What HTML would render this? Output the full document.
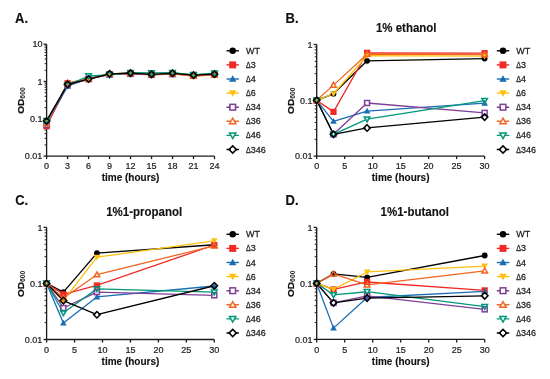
<!DOCTYPE html>
<html><head><meta charset="utf-8"><style>
html,body{margin:0;padding:0;background:#fff;}
svg{display:block;font-family:"Liberation Sans", sans-serif;will-change:transform;}
</style></head><body>
<svg width="550" height="379" viewBox="0 0 550 379">
<rect width="550" height="379" fill="#fff"/>
<path d="M46.60,44.20 V156.10 H214.50" fill="none" stroke="#1a1a1a" stroke-width="1.3"/>
<line x1="43.60" y1="156.10" x2="46.60" y2="156.10" stroke="#1a1a1a" stroke-width="1.3"/>
<text x="42.40" y="159.30" font-size="9" stroke="#222222" stroke-width="0.22" text-anchor="end" fill="#222222">0.01</text>
<line x1="44.60" y1="144.87" x2="46.60" y2="144.87" stroke="#1a1a1a" stroke-width="1"/>
<line x1="44.60" y1="138.30" x2="46.60" y2="138.30" stroke="#1a1a1a" stroke-width="1"/>
<line x1="44.60" y1="133.64" x2="46.60" y2="133.64" stroke="#1a1a1a" stroke-width="1"/>
<line x1="44.60" y1="130.03" x2="46.60" y2="130.03" stroke="#1a1a1a" stroke-width="1"/>
<line x1="44.60" y1="127.07" x2="46.60" y2="127.07" stroke="#1a1a1a" stroke-width="1"/>
<line x1="44.60" y1="124.58" x2="46.60" y2="124.58" stroke="#1a1a1a" stroke-width="1"/>
<line x1="44.60" y1="122.41" x2="46.60" y2="122.41" stroke="#1a1a1a" stroke-width="1"/>
<line x1="44.60" y1="120.51" x2="46.60" y2="120.51" stroke="#1a1a1a" stroke-width="1"/>
<line x1="43.60" y1="118.80" x2="46.60" y2="118.80" stroke="#1a1a1a" stroke-width="1.3"/>
<text x="42.40" y="122.00" font-size="9" stroke="#222222" stroke-width="0.22" text-anchor="end" fill="#222222">0.1</text>
<line x1="44.60" y1="107.57" x2="46.60" y2="107.57" stroke="#1a1a1a" stroke-width="1"/>
<line x1="44.60" y1="101.00" x2="46.60" y2="101.00" stroke="#1a1a1a" stroke-width="1"/>
<line x1="44.60" y1="96.34" x2="46.60" y2="96.34" stroke="#1a1a1a" stroke-width="1"/>
<line x1="44.60" y1="92.73" x2="46.60" y2="92.73" stroke="#1a1a1a" stroke-width="1"/>
<line x1="44.60" y1="89.77" x2="46.60" y2="89.77" stroke="#1a1a1a" stroke-width="1"/>
<line x1="44.60" y1="87.28" x2="46.60" y2="87.28" stroke="#1a1a1a" stroke-width="1"/>
<line x1="44.60" y1="85.11" x2="46.60" y2="85.11" stroke="#1a1a1a" stroke-width="1"/>
<line x1="44.60" y1="83.21" x2="46.60" y2="83.21" stroke="#1a1a1a" stroke-width="1"/>
<line x1="43.60" y1="81.50" x2="46.60" y2="81.50" stroke="#1a1a1a" stroke-width="1.3"/>
<text x="42.40" y="84.70" font-size="9" stroke="#222222" stroke-width="0.22" text-anchor="end" fill="#222222">1</text>
<line x1="44.60" y1="70.27" x2="46.60" y2="70.27" stroke="#1a1a1a" stroke-width="1"/>
<line x1="44.60" y1="63.70" x2="46.60" y2="63.70" stroke="#1a1a1a" stroke-width="1"/>
<line x1="44.60" y1="59.04" x2="46.60" y2="59.04" stroke="#1a1a1a" stroke-width="1"/>
<line x1="44.60" y1="55.43" x2="46.60" y2="55.43" stroke="#1a1a1a" stroke-width="1"/>
<line x1="44.60" y1="52.47" x2="46.60" y2="52.47" stroke="#1a1a1a" stroke-width="1"/>
<line x1="44.60" y1="49.98" x2="46.60" y2="49.98" stroke="#1a1a1a" stroke-width="1"/>
<line x1="44.60" y1="47.81" x2="46.60" y2="47.81" stroke="#1a1a1a" stroke-width="1"/>
<line x1="44.60" y1="45.91" x2="46.60" y2="45.91" stroke="#1a1a1a" stroke-width="1"/>
<line x1="43.60" y1="44.20" x2="46.60" y2="44.20" stroke="#1a1a1a" stroke-width="1.3"/>
<text x="42.40" y="47.40" font-size="9" stroke="#222222" stroke-width="0.22" text-anchor="end" fill="#222222">10</text>
<line x1="46.60" y1="156.10" x2="46.60" y2="159.10" stroke="#1a1a1a" stroke-width="1.3"/>
<text x="46.60" y="169.40" font-size="9" stroke="#222222" stroke-width="0.22" text-anchor="middle" fill="#222222">0</text>
<line x1="67.59" y1="156.10" x2="67.59" y2="159.10" stroke="#1a1a1a" stroke-width="1.3"/>
<text x="67.59" y="169.40" font-size="9" stroke="#222222" stroke-width="0.22" text-anchor="middle" fill="#222222">3</text>
<line x1="88.58" y1="156.10" x2="88.58" y2="159.10" stroke="#1a1a1a" stroke-width="1.3"/>
<text x="88.58" y="169.40" font-size="9" stroke="#222222" stroke-width="0.22" text-anchor="middle" fill="#222222">6</text>
<line x1="109.56" y1="156.10" x2="109.56" y2="159.10" stroke="#1a1a1a" stroke-width="1.3"/>
<text x="109.56" y="169.40" font-size="9" stroke="#222222" stroke-width="0.22" text-anchor="middle" fill="#222222">9</text>
<line x1="130.55" y1="156.10" x2="130.55" y2="159.10" stroke="#1a1a1a" stroke-width="1.3"/>
<text x="130.55" y="169.40" font-size="9" stroke="#222222" stroke-width="0.22" text-anchor="middle" fill="#222222">12</text>
<line x1="151.54" y1="156.10" x2="151.54" y2="159.10" stroke="#1a1a1a" stroke-width="1.3"/>
<text x="151.54" y="169.40" font-size="9" stroke="#222222" stroke-width="0.22" text-anchor="middle" fill="#222222">15</text>
<line x1="172.53" y1="156.10" x2="172.53" y2="159.10" stroke="#1a1a1a" stroke-width="1.3"/>
<text x="172.53" y="169.40" font-size="9" stroke="#222222" stroke-width="0.22" text-anchor="middle" fill="#222222">18</text>
<line x1="193.51" y1="156.10" x2="193.51" y2="159.10" stroke="#1a1a1a" stroke-width="1.3"/>
<text x="193.51" y="169.40" font-size="9" stroke="#222222" stroke-width="0.22" text-anchor="middle" fill="#222222">21</text>
<line x1="214.50" y1="156.10" x2="214.50" y2="159.10" stroke="#1a1a1a" stroke-width="1.3"/>
<text x="214.50" y="169.40" font-size="9" stroke="#222222" stroke-width="0.22" text-anchor="middle" fill="#222222">24</text>
<text transform="translate(130.55,181.30) scale(1.0,1.04)" font-size="10" font-weight="bold" stroke="#111" stroke-width="0.12" text-anchor="middle" fill="#111">time (hours)</text>
<text transform="translate(24.20,113.75) rotate(-90) scale(1.06,1)" font-size="9.5" font-weight="bold" fill="#111" stroke="#111" stroke-width="0.2">OD</text>
<text transform="translate(24.60,98.65) rotate(-90)" font-size="6.8" font-weight="bold" fill="#222">600</text>
<polyline points="46.60,121.06 67.59,84.32 88.58,79.04 109.56,73.79 130.55,73.12 151.54,74.38 172.53,73.30 193.51,75.22 214.50,74.18" fill="none" stroke="#000000" stroke-width="1.3" stroke-linejoin="round"/>
<polyline points="46.60,126.28 67.59,83.21 88.58,79.04 109.56,74.18 130.55,73.40 151.54,74.38 172.53,73.40 193.51,75.98 214.50,74.38" fill="none" stroke="#f02a26" stroke-width="1.3" stroke-linejoin="round"/>
<polyline points="46.60,123.46 67.59,86.16 88.58,78.39 109.56,74.89 130.55,73.21 151.54,73.89 172.53,73.21 193.51,74.89 214.50,73.89" fill="none" stroke="#1a6db3" stroke-width="1.3" stroke-linejoin="round"/>
<polyline points="46.60,122.41 67.59,84.13 88.58,78.78 109.56,73.89 130.55,72.92 151.54,73.89 172.53,72.92 193.51,74.89 214.50,73.89" fill="none" stroke="#fdc010" stroke-width="1.3" stroke-linejoin="round"/>
<mask id="mAd34" maskUnits="userSpaceOnUse" x="0" y="0" width="550" height="379"><rect width="550" height="379" fill="#fff"/><rect x="44.85" y="123.30" width="3.50" height="3.50" fill="#000"/><rect x="65.84" y="83.36" width="3.50" height="3.50" fill="#000"/><rect x="86.83" y="77.29" width="3.50" height="3.50" fill="#000"/><rect x="107.81" y="72.63" width="3.50" height="3.50" fill="#000"/><rect x="128.80" y="72.14" width="3.50" height="3.50" fill="#000"/><rect x="149.79" y="73.14" width="3.50" height="3.50" fill="#000"/><rect x="170.78" y="72.43" width="3.50" height="3.50" fill="#000"/><rect x="191.76" y="73.14" width="3.50" height="3.50" fill="#000"/><rect x="212.75" y="72.63" width="3.50" height="3.50" fill="#000"/></mask>
<polyline points="46.60,125.05 67.59,85.11 88.58,79.04 109.56,74.38 130.55,73.89 151.54,74.89 172.53,74.18 193.51,74.89 214.50,74.38" fill="none" stroke="#7e3f98" stroke-width="1.3" stroke-linejoin="round" mask="url(#mAd34)"/>
<mask id="mAd36" maskUnits="userSpaceOnUse" x="0" y="0" width="550" height="379"><rect width="550" height="379" fill="#fff"/><polygon points="46.60,122.66 48.06,125.22 45.14,125.22" fill="#000"/><polygon points="67.59,81.39 69.05,83.95 66.12,83.95" fill="#000"/><polygon points="88.58,77.31 90.04,79.87 87.11,79.87" fill="#000"/><polygon points="109.56,72.42 111.03,74.98 108.10,74.98" fill="#000"/><polygon points="130.55,71.93 132.01,74.49 129.09,74.49" fill="#000"/><polygon points="151.54,73.12 153.00,75.68 150.07,75.68" fill="#000"/><polygon points="172.53,72.42 173.99,74.98 171.06,74.98" fill="#000"/><polygon points="193.51,74.52 194.98,77.08 192.05,77.08" fill="#000"/><polygon points="214.50,73.43 215.96,75.99 213.04,75.99" fill="#000"/></mask>
<polyline points="46.60,124.12 67.59,82.85 88.58,78.78 109.56,73.89 130.55,73.40 151.54,74.58 172.53,73.89 193.51,75.98 214.50,74.89" fill="none" stroke="#f26522" stroke-width="1.3" stroke-linejoin="round" mask="url(#mAd36)"/>
<mask id="mAd46" maskUnits="userSpaceOnUse" x="0" y="0" width="550" height="379"><rect width="550" height="379" fill="#fff"/><polygon points="46.60,121.97 48.06,119.41 45.14,119.41" fill="#000"/><polygon points="67.59,86.58 69.05,84.02 66.12,84.02" fill="#000"/><polygon points="88.58,77.44 90.04,74.88 87.11,74.88" fill="#000"/><polygon points="109.56,76.35 111.03,73.79 108.10,73.79" fill="#000"/><polygon points="130.55,74.11 132.01,71.55 129.09,71.55" fill="#000"/><polygon points="151.54,74.39 153.00,71.83 150.07,71.83" fill="#000"/><polygon points="172.53,74.11 173.99,71.55 171.06,71.55" fill="#000"/><polygon points="193.51,76.35 194.98,73.79 192.05,73.79" fill="#000"/><polygon points="214.50,74.68 215.96,72.11 213.04,72.11" fill="#000"/></mask>
<polyline points="46.60,120.51 67.59,85.11 88.58,75.98 109.56,74.89 130.55,72.65 151.54,72.92 172.53,72.65 193.51,74.89 214.50,73.21" fill="none" stroke="#00977a" stroke-width="1.3" stroke-linejoin="round" mask="url(#mAd46)"/>
<mask id="mAd346" maskUnits="userSpaceOnUse" x="0" y="0" width="550" height="379"><rect width="550" height="379" fill="#fff"/><polygon points="46.60,119.16 48.50,121.06 46.60,122.95 44.70,121.06" fill="#000"/><polygon points="67.59,82.43 69.49,84.32 67.59,86.22 65.69,84.32" fill="#000"/><polygon points="88.58,77.14 90.47,79.04 88.58,80.94 86.68,79.04" fill="#000"/><polygon points="109.56,71.89 111.46,73.79 109.56,75.68 107.66,73.79" fill="#000"/><polygon points="130.55,71.22 132.45,73.12 130.55,75.01 128.65,73.12" fill="#000"/><polygon points="151.54,72.48 153.44,74.38 151.54,76.28 149.64,74.38" fill="#000"/><polygon points="172.53,71.40 174.42,73.30 172.53,75.20 170.63,73.30" fill="#000"/><polygon points="193.51,73.32 195.41,75.22 193.51,77.11 191.61,75.22" fill="#000"/><polygon points="214.50,72.28 216.40,74.18 214.50,76.08 212.60,74.18" fill="#000"/></mask>
<polyline points="46.60,121.06 67.59,84.32 88.58,79.04 109.56,73.79 130.55,73.12 151.54,74.38 172.53,73.30 193.51,75.22 214.50,74.18" fill="none" stroke="#000000" stroke-width="1.3" stroke-linejoin="round" mask="url(#mAd346)"/>
<circle cx="46.60" cy="121.06" r="2.90" fill="#000000"/>
<circle cx="67.59" cy="84.32" r="2.90" fill="#000000"/>
<circle cx="88.58" cy="79.04" r="2.90" fill="#000000"/>
<circle cx="109.56" cy="73.79" r="2.90" fill="#000000"/>
<circle cx="130.55" cy="73.12" r="2.90" fill="#000000"/>
<circle cx="151.54" cy="74.38" r="2.90" fill="#000000"/>
<circle cx="172.53" cy="73.30" r="2.90" fill="#000000"/>
<circle cx="193.51" cy="75.22" r="2.90" fill="#000000"/>
<circle cx="214.50" cy="74.18" r="2.90" fill="#000000"/>
<rect x="43.50" y="123.18" width="6.21" height="6.21" fill="#f02a26"/>
<rect x="64.48" y="80.10" width="6.21" height="6.21" fill="#f02a26"/>
<rect x="85.47" y="75.94" width="6.21" height="6.21" fill="#f02a26"/>
<rect x="106.46" y="71.08" width="6.21" height="6.21" fill="#f02a26"/>
<rect x="127.45" y="70.29" width="6.21" height="6.21" fill="#f02a26"/>
<rect x="148.43" y="71.28" width="6.21" height="6.21" fill="#f02a26"/>
<rect x="169.42" y="70.29" width="6.21" height="6.21" fill="#f02a26"/>
<rect x="190.41" y="72.88" width="6.21" height="6.21" fill="#f02a26"/>
<rect x="211.40" y="71.28" width="6.21" height="6.21" fill="#f02a26"/>
<polygon points="46.60,120.13 49.94,125.96 43.27,125.96" fill="#1a6db3"/>
<polygon points="67.59,82.83 70.92,88.66 64.25,88.66" fill="#1a6db3"/>
<polygon points="88.58,75.05 91.91,80.89 85.24,80.89" fill="#1a6db3"/>
<polygon points="109.56,71.55 112.90,77.39 106.23,77.39" fill="#1a6db3"/>
<polygon points="130.55,69.88 133.89,75.71 127.22,75.71" fill="#1a6db3"/>
<polygon points="151.54,70.55 154.87,76.39 148.20,76.39" fill="#1a6db3"/>
<polygon points="172.53,69.88 175.86,75.71 169.19,75.71" fill="#1a6db3"/>
<polygon points="193.51,71.55 196.85,77.39 190.18,77.39" fill="#1a6db3"/>
<polygon points="214.50,70.55 217.84,76.39 211.16,76.39" fill="#1a6db3"/>
<polygon points="46.60,125.75 49.94,119.91 43.27,119.91" fill="#fdc010"/>
<polygon points="67.59,87.47 70.92,81.63 64.25,81.63" fill="#fdc010"/>
<polygon points="88.58,82.11 91.91,76.28 85.24,76.28" fill="#fdc010"/>
<polygon points="109.56,77.22 112.90,71.39 106.23,71.39" fill="#fdc010"/>
<polygon points="130.55,76.26 133.89,70.42 127.22,70.42" fill="#fdc010"/>
<polygon points="151.54,77.22 154.87,71.39 148.20,71.39" fill="#fdc010"/>
<polygon points="172.53,76.26 175.86,70.42 169.19,70.42" fill="#fdc010"/>
<polygon points="193.51,78.22 196.85,72.39 190.18,72.39" fill="#fdc010"/>
<polygon points="214.50,77.22 217.84,71.39 211.16,71.39" fill="#fdc010"/>
<rect x="44.10" y="122.55" width="5.00" height="5.00" fill="none" stroke="#7e3f98" stroke-width="1.5"/>
<rect x="65.09" y="82.61" width="5.00" height="5.00" fill="none" stroke="#7e3f98" stroke-width="1.5"/>
<rect x="86.08" y="76.54" width="5.00" height="5.00" fill="none" stroke="#7e3f98" stroke-width="1.5"/>
<rect x="107.06" y="71.88" width="5.00" height="5.00" fill="none" stroke="#7e3f98" stroke-width="1.5"/>
<rect x="128.05" y="71.39" width="5.00" height="5.00" fill="none" stroke="#7e3f98" stroke-width="1.5"/>
<rect x="149.04" y="72.39" width="5.00" height="5.00" fill="none" stroke="#7e3f98" stroke-width="1.5"/>
<rect x="170.03" y="71.68" width="5.00" height="5.00" fill="none" stroke="#7e3f98" stroke-width="1.5"/>
<rect x="191.01" y="72.39" width="5.00" height="5.00" fill="none" stroke="#7e3f98" stroke-width="1.5"/>
<rect x="212.00" y="71.88" width="5.00" height="5.00" fill="none" stroke="#7e3f98" stroke-width="1.5"/>
<polygon points="46.60,121.31 49.41,126.23 43.79,126.23" fill="none" stroke="#f26522" stroke-width="1.5"/>
<polygon points="67.59,80.04 70.40,84.96 64.77,84.96" fill="none" stroke="#f26522" stroke-width="1.5"/>
<polygon points="88.58,75.96 91.39,80.89 85.76,80.89" fill="none" stroke="#f26522" stroke-width="1.5"/>
<polygon points="109.56,71.07 112.38,76.00 106.75,76.00" fill="none" stroke="#f26522" stroke-width="1.5"/>
<polygon points="130.55,70.58 133.36,75.51 127.74,75.51" fill="none" stroke="#f26522" stroke-width="1.5"/>
<polygon points="151.54,71.77 154.35,76.69 148.72,76.69" fill="none" stroke="#f26522" stroke-width="1.5"/>
<polygon points="172.53,71.07 175.34,76.00 169.71,76.00" fill="none" stroke="#f26522" stroke-width="1.5"/>
<polygon points="193.51,73.17 196.33,78.09 190.70,78.09" fill="none" stroke="#f26522" stroke-width="1.5"/>
<polygon points="214.50,72.08 217.31,77.00 211.69,77.00" fill="none" stroke="#f26522" stroke-width="1.5"/>
<polygon points="46.60,123.32 49.41,118.40 43.79,118.40" fill="none" stroke="#00977a" stroke-width="1.5"/>
<polygon points="67.59,87.93 70.40,83.00 64.77,83.00" fill="none" stroke="#00977a" stroke-width="1.5"/>
<polygon points="88.58,78.79 91.39,73.87 85.76,73.87" fill="none" stroke="#00977a" stroke-width="1.5"/>
<polygon points="109.56,77.70 112.38,72.78 106.75,72.78" fill="none" stroke="#00977a" stroke-width="1.5"/>
<polygon points="130.55,75.46 133.36,70.54 127.74,70.54" fill="none" stroke="#00977a" stroke-width="1.5"/>
<polygon points="151.54,75.74 154.35,70.81 148.72,70.81" fill="none" stroke="#00977a" stroke-width="1.5"/>
<polygon points="172.53,75.46 175.34,70.54 169.71,70.54" fill="none" stroke="#00977a" stroke-width="1.5"/>
<polygon points="193.51,77.70 196.33,72.78 190.70,72.78" fill="none" stroke="#00977a" stroke-width="1.5"/>
<polygon points="214.50,76.03 217.31,71.10 211.69,71.10" fill="none" stroke="#00977a" stroke-width="1.5"/>
<polygon points="46.60,117.81 49.85,121.06 46.60,124.30 43.35,121.06" fill="none" stroke="#000000" stroke-width="1.5"/>
<polygon points="67.59,81.08 70.84,84.32 67.59,87.57 64.34,84.32" fill="none" stroke="#000000" stroke-width="1.5"/>
<polygon points="88.58,75.79 91.82,79.04 88.58,82.29 85.33,79.04" fill="none" stroke="#000000" stroke-width="1.5"/>
<polygon points="109.56,70.54 112.81,73.79 109.56,77.03 106.31,73.79" fill="none" stroke="#000000" stroke-width="1.5"/>
<polygon points="130.55,69.87 133.80,73.12 130.55,76.36 127.30,73.12" fill="none" stroke="#000000" stroke-width="1.5"/>
<polygon points="151.54,71.13 154.79,74.38 151.54,77.63 148.29,74.38" fill="none" stroke="#000000" stroke-width="1.5"/>
<polygon points="172.53,70.05 175.77,73.30 172.53,76.55 169.28,73.30" fill="none" stroke="#000000" stroke-width="1.5"/>
<polygon points="193.51,71.97 196.76,75.22 193.51,78.46 190.26,75.22" fill="none" stroke="#000000" stroke-width="1.5"/>
<polygon points="214.50,70.93 217.75,74.18 214.50,77.43 211.25,74.18" fill="none" stroke="#000000" stroke-width="1.5"/>
<line x1="226.50" y1="50.80" x2="238.90" y2="50.80" stroke="#000000" stroke-width="1.4"/>
<circle cx="232.70" cy="50.80" r="3.25" fill="#000000"/>
<text transform="translate(245.90,53.80) scale(1.0,1.05)" font-size="9" stroke="#222222" stroke-width="0.25" fill="#222222">WT</text>
<line x1="226.50" y1="64.90" x2="238.90" y2="64.90" stroke="#f02a26" stroke-width="1.4"/>
<rect x="229.22" y="61.42" width="6.96" height="6.96" fill="#f02a26"/>
<text transform="translate(245.90,67.90) scale(0.78,1.05)" font-size="9" stroke="#222222" stroke-width="0.25" fill="#222222">Δ</text>
<text transform="translate(250.80,67.90) scale(1.0,1.05)" font-size="9" stroke="#222222" stroke-width="0.25" fill="#222222">3</text>
<line x1="226.50" y1="79.00" x2="238.90" y2="79.00" stroke="#1a6db3" stroke-width="1.4"/>
<polygon points="232.70,75.26 236.44,81.80 228.96,81.80" fill="#1a6db3"/>
<text transform="translate(245.90,82.00) scale(0.78,1.05)" font-size="9" stroke="#222222" stroke-width="0.25" fill="#222222">Δ</text>
<text transform="translate(250.80,82.00) scale(1.0,1.05)" font-size="9" stroke="#222222" stroke-width="0.25" fill="#222222">4</text>
<line x1="226.50" y1="93.10" x2="238.90" y2="93.10" stroke="#fdc010" stroke-width="1.4"/>
<polygon points="232.70,96.84 236.44,90.30 228.96,90.30" fill="#fdc010"/>
<text transform="translate(245.90,96.10) scale(0.78,1.05)" font-size="9" stroke="#222222" stroke-width="0.25" fill="#222222">Δ</text>
<text transform="translate(250.80,96.10) scale(1.0,1.05)" font-size="9" stroke="#222222" stroke-width="0.25" fill="#222222">6</text>
<path d="M226.50,107.20H230.50M234.90,107.20H238.90" stroke="#7e3f98" stroke-width="1.4"/>
<rect x="229.85" y="104.35" width="5.70" height="5.70" fill="none" stroke="#7e3f98" stroke-width="1.5"/>
<text transform="translate(245.90,110.20) scale(0.78,1.05)" font-size="9" stroke="#222222" stroke-width="0.25" fill="#222222">Δ</text>
<text transform="translate(250.80,110.20) scale(1.0,1.05)" font-size="9" stroke="#222222" stroke-width="0.25" fill="#222222">34</text>
<path d="M226.50,121.30H230.50M234.90,121.30H238.90" stroke="#f26522" stroke-width="1.4"/>
<polygon points="232.70,118.15 235.85,123.66 229.55,123.66" fill="none" stroke="#f26522" stroke-width="1.5"/>
<text transform="translate(245.90,124.30) scale(0.78,1.05)" font-size="9" stroke="#222222" stroke-width="0.25" fill="#222222">Δ</text>
<text transform="translate(250.80,124.30) scale(1.0,1.05)" font-size="9" stroke="#222222" stroke-width="0.25" fill="#222222">36</text>
<path d="M226.50,135.40H230.50M234.90,135.40H238.90" stroke="#00977a" stroke-width="1.4"/>
<polygon points="232.70,138.55 235.85,133.04 229.55,133.04" fill="none" stroke="#00977a" stroke-width="1.5"/>
<text transform="translate(245.90,138.40) scale(0.78,1.05)" font-size="9" stroke="#222222" stroke-width="0.25" fill="#222222">Δ</text>
<text transform="translate(250.80,138.40) scale(1.0,1.05)" font-size="9" stroke="#222222" stroke-width="0.25" fill="#222222">46</text>
<path d="M226.50,149.50H230.50M234.90,149.50H238.90" stroke="#000000" stroke-width="1.4"/>
<polygon points="232.70,145.86 236.34,149.50 232.70,153.14 229.06,149.50" fill="none" stroke="#000000" stroke-width="1.5"/>
<text transform="translate(245.90,152.50) scale(0.78,1.05)" font-size="9" stroke="#222222" stroke-width="0.25" fill="#222222">Δ</text>
<text transform="translate(250.80,152.50) scale(1.0,1.05)" font-size="9" stroke="#222222" stroke-width="0.25" fill="#222222">346</text>
<text transform="translate(15.00,22.90) scale(1.0,1.1)" font-size="13" font-weight="bold" stroke="#111" stroke-width="0.12" fill="#111">A.</text>
<path d="M316.70,44.50 V156.10 H484.60" fill="none" stroke="#1a1a1a" stroke-width="1.3"/>
<line x1="313.70" y1="156.10" x2="316.70" y2="156.10" stroke="#1a1a1a" stroke-width="1.3"/>
<text x="312.50" y="159.30" font-size="9" stroke="#222222" stroke-width="0.22" text-anchor="end" fill="#222222">0.01</text>
<line x1="314.70" y1="139.30" x2="316.70" y2="139.30" stroke="#1a1a1a" stroke-width="1"/>
<line x1="314.70" y1="129.48" x2="316.70" y2="129.48" stroke="#1a1a1a" stroke-width="1"/>
<line x1="314.70" y1="122.51" x2="316.70" y2="122.51" stroke="#1a1a1a" stroke-width="1"/>
<line x1="314.70" y1="117.10" x2="316.70" y2="117.10" stroke="#1a1a1a" stroke-width="1"/>
<line x1="314.70" y1="112.68" x2="316.70" y2="112.68" stroke="#1a1a1a" stroke-width="1"/>
<line x1="314.70" y1="108.94" x2="316.70" y2="108.94" stroke="#1a1a1a" stroke-width="1"/>
<line x1="314.70" y1="105.71" x2="316.70" y2="105.71" stroke="#1a1a1a" stroke-width="1"/>
<line x1="314.70" y1="102.85" x2="316.70" y2="102.85" stroke="#1a1a1a" stroke-width="1"/>
<line x1="313.70" y1="100.30" x2="316.70" y2="100.30" stroke="#1a1a1a" stroke-width="1.3"/>
<text x="312.50" y="103.50" font-size="9" stroke="#222222" stroke-width="0.22" text-anchor="end" fill="#222222">0.1</text>
<line x1="314.70" y1="83.50" x2="316.70" y2="83.50" stroke="#1a1a1a" stroke-width="1"/>
<line x1="314.70" y1="73.68" x2="316.70" y2="73.68" stroke="#1a1a1a" stroke-width="1"/>
<line x1="314.70" y1="66.71" x2="316.70" y2="66.71" stroke="#1a1a1a" stroke-width="1"/>
<line x1="314.70" y1="61.30" x2="316.70" y2="61.30" stroke="#1a1a1a" stroke-width="1"/>
<line x1="314.70" y1="56.88" x2="316.70" y2="56.88" stroke="#1a1a1a" stroke-width="1"/>
<line x1="314.70" y1="53.14" x2="316.70" y2="53.14" stroke="#1a1a1a" stroke-width="1"/>
<line x1="314.70" y1="49.91" x2="316.70" y2="49.91" stroke="#1a1a1a" stroke-width="1"/>
<line x1="314.70" y1="47.05" x2="316.70" y2="47.05" stroke="#1a1a1a" stroke-width="1"/>
<line x1="313.70" y1="44.50" x2="316.70" y2="44.50" stroke="#1a1a1a" stroke-width="1.3"/>
<text x="312.50" y="47.70" font-size="9" stroke="#222222" stroke-width="0.22" text-anchor="end" fill="#222222">1</text>
<line x1="316.70" y1="156.10" x2="316.70" y2="159.10" stroke="#1a1a1a" stroke-width="1.3"/>
<text x="316.70" y="169.40" font-size="9" stroke="#222222" stroke-width="0.22" text-anchor="middle" fill="#222222">0</text>
<line x1="344.68" y1="156.10" x2="344.68" y2="159.10" stroke="#1a1a1a" stroke-width="1.3"/>
<text x="344.68" y="169.40" font-size="9" stroke="#222222" stroke-width="0.22" text-anchor="middle" fill="#222222">5</text>
<line x1="372.67" y1="156.10" x2="372.67" y2="159.10" stroke="#1a1a1a" stroke-width="1.3"/>
<text x="372.67" y="169.40" font-size="9" stroke="#222222" stroke-width="0.22" text-anchor="middle" fill="#222222">10</text>
<line x1="400.65" y1="156.10" x2="400.65" y2="159.10" stroke="#1a1a1a" stroke-width="1.3"/>
<text x="400.65" y="169.40" font-size="9" stroke="#222222" stroke-width="0.22" text-anchor="middle" fill="#222222">15</text>
<line x1="428.63" y1="156.10" x2="428.63" y2="159.10" stroke="#1a1a1a" stroke-width="1.3"/>
<text x="428.63" y="169.40" font-size="9" stroke="#222222" stroke-width="0.22" text-anchor="middle" fill="#222222">20</text>
<line x1="456.62" y1="156.10" x2="456.62" y2="159.10" stroke="#1a1a1a" stroke-width="1.3"/>
<text x="456.62" y="169.40" font-size="9" stroke="#222222" stroke-width="0.22" text-anchor="middle" fill="#222222">25</text>
<line x1="484.60" y1="156.10" x2="484.60" y2="159.10" stroke="#1a1a1a" stroke-width="1.3"/>
<text x="484.60" y="169.40" font-size="9" stroke="#222222" stroke-width="0.22" text-anchor="middle" fill="#222222">30</text>
<text transform="translate(400.65,181.30) scale(1.0,1.04)" font-size="10" font-weight="bold" stroke="#111" stroke-width="0.12" text-anchor="middle" fill="#111">time (hours)</text>
<text transform="translate(294.30,113.90) rotate(-90) scale(1.06,1)" font-size="9.5" font-weight="bold" fill="#111" stroke="#111" stroke-width="0.2">OD</text>
<text transform="translate(294.70,98.80) rotate(-90)" font-size="6.8" font-weight="bold" fill="#222">600</text>
<polyline points="316.70,100.30 333.49,93.81 367.07,60.82 484.60,58.55" fill="none" stroke="#000000" stroke-width="1.3" stroke-linejoin="round"/>
<polyline points="316.70,100.30 333.49,111.88 367.07,52.80 484.60,53.14" fill="none" stroke="#f02a26" stroke-width="1.3" stroke-linejoin="round"/>
<polyline points="316.70,100.30 333.49,121.32 367.07,111.12 484.60,103.12" fill="none" stroke="#1a6db3" stroke-width="1.3" stroke-linejoin="round"/>
<polyline points="316.70,100.30 333.49,93.76 367.07,55.70 484.60,56.08" fill="none" stroke="#fdc010" stroke-width="1.3" stroke-linejoin="round"/>
<mask id="mBd34" maskUnits="userSpaceOnUse" x="0" y="0" width="550" height="379"><rect width="550" height="379" fill="#fff"/><rect x="314.95" y="98.55" width="3.50" height="3.50" fill="#000"/><rect x="331.74" y="132.54" width="3.50" height="3.50" fill="#000"/><rect x="365.32" y="101.24" width="3.50" height="3.50" fill="#000"/><rect x="482.85" y="111.13" width="3.50" height="3.50" fill="#000"/></mask>
<polyline points="316.70,100.30 333.49,134.29 367.07,102.99 484.60,112.88" fill="none" stroke="#7e3f98" stroke-width="1.3" stroke-linejoin="round" mask="url(#mBd34)"/>
<mask id="mBd36" maskUnits="userSpaceOnUse" x="0" y="0" width="550" height="379"><rect width="550" height="379" fill="#fff"/><polygon points="316.70,98.84 318.16,101.40 315.24,101.40" fill="#000"/><polygon points="333.49,83.67 334.95,86.23 332.03,86.23" fill="#000"/><polygon points="367.07,52.74 368.53,55.30 365.61,55.30" fill="#000"/><polygon points="484.60,53.11 486.06,55.67 483.14,55.67" fill="#000"/></mask>
<polyline points="316.70,100.30 333.49,85.13 367.07,54.21 484.60,54.57" fill="none" stroke="#f26522" stroke-width="1.3" stroke-linejoin="round" mask="url(#mBd36)"/>
<mask id="mBd46" maskUnits="userSpaceOnUse" x="0" y="0" width="550" height="379"><rect width="550" height="379" fill="#fff"/><polygon points="316.70,101.76 318.16,99.20 315.24,99.20" fill="#000"/><polygon points="333.49,135.75 334.95,133.19 332.03,133.19" fill="#000"/><polygon points="367.07,120.58 368.53,118.02 365.61,118.02" fill="#000"/><polygon points="484.60,102.01 486.06,99.45 483.14,99.45" fill="#000"/></mask>
<polyline points="316.70,100.30 333.49,134.29 367.07,119.12 484.60,100.54" fill="none" stroke="#00977a" stroke-width="1.3" stroke-linejoin="round" mask="url(#mBd46)"/>
<mask id="mBd346" maskUnits="userSpaceOnUse" x="0" y="0" width="550" height="379"><rect width="550" height="379" fill="#fff"/><polygon points="316.70,98.40 318.60,100.30 316.70,102.20 314.80,100.30" fill="#000"/><polygon points="333.49,132.39 335.39,134.29 333.49,136.18 331.59,134.29" fill="#000"/><polygon points="367.07,126.01 368.97,127.91 367.07,129.81 365.17,127.91" fill="#000"/><polygon points="484.60,115.20 486.50,117.10 484.60,119.00 482.70,117.10" fill="#000"/></mask>
<polyline points="316.70,100.30 333.49,134.29 367.07,127.91 484.60,117.10" fill="none" stroke="#000000" stroke-width="1.3" stroke-linejoin="round" mask="url(#mBd346)"/>
<circle cx="316.70" cy="100.30" r="2.90" fill="#000000"/>
<circle cx="333.49" cy="93.81" r="2.90" fill="#000000"/>
<circle cx="367.07" cy="60.82" r="2.90" fill="#000000"/>
<circle cx="484.60" cy="58.55" r="2.90" fill="#000000"/>
<rect x="313.60" y="97.20" width="6.21" height="6.21" fill="#f02a26"/>
<rect x="330.39" y="108.78" width="6.21" height="6.21" fill="#f02a26"/>
<rect x="363.97" y="49.70" width="6.21" height="6.21" fill="#f02a26"/>
<rect x="481.50" y="50.04" width="6.21" height="6.21" fill="#f02a26"/>
<polygon points="316.70,96.97 320.03,102.80 313.37,102.80" fill="#1a6db3"/>
<polygon points="333.49,117.99 336.82,123.82 330.16,123.82" fill="#1a6db3"/>
<polygon points="367.07,107.78 370.40,113.62 363.74,113.62" fill="#1a6db3"/>
<polygon points="484.60,99.79 487.94,105.63 481.27,105.63" fill="#1a6db3"/>
<polygon points="316.70,103.63 320.03,97.80 313.37,97.80" fill="#fdc010"/>
<polygon points="333.49,97.09 336.82,91.26 330.16,91.26" fill="#fdc010"/>
<polygon points="367.07,59.03 370.40,53.20 363.74,53.20" fill="#fdc010"/>
<polygon points="484.60,59.42 487.94,53.58 481.27,53.58" fill="#fdc010"/>
<rect x="314.20" y="97.80" width="5.00" height="5.00" fill="none" stroke="#7e3f98" stroke-width="1.5"/>
<rect x="330.99" y="131.79" width="5.00" height="5.00" fill="none" stroke="#7e3f98" stroke-width="1.5"/>
<rect x="364.57" y="100.49" width="5.00" height="5.00" fill="none" stroke="#7e3f98" stroke-width="1.5"/>
<rect x="482.10" y="110.38" width="5.00" height="5.00" fill="none" stroke="#7e3f98" stroke-width="1.5"/>
<polygon points="316.70,97.49 319.51,102.41 313.89,102.41" fill="none" stroke="#f26522" stroke-width="1.5"/>
<polygon points="333.49,82.32 336.30,87.24 330.68,87.24" fill="none" stroke="#f26522" stroke-width="1.5"/>
<polygon points="367.07,51.39 369.88,56.31 364.26,56.31" fill="none" stroke="#f26522" stroke-width="1.5"/>
<polygon points="484.60,51.76 487.41,56.68 481.79,56.68" fill="none" stroke="#f26522" stroke-width="1.5"/>
<polygon points="316.70,103.11 319.51,98.19 313.89,98.19" fill="none" stroke="#00977a" stroke-width="1.5"/>
<polygon points="333.49,137.10 336.30,132.18 330.68,132.18" fill="none" stroke="#00977a" stroke-width="1.5"/>
<polygon points="367.07,121.93 369.88,117.01 364.26,117.01" fill="none" stroke="#00977a" stroke-width="1.5"/>
<polygon points="484.60,103.36 487.41,98.43 481.79,98.43" fill="none" stroke="#00977a" stroke-width="1.5"/>
<polygon points="316.70,97.05 319.95,100.30 316.70,103.55 313.45,100.30" fill="none" stroke="#000000" stroke-width="1.5"/>
<polygon points="333.49,131.04 336.74,134.29 333.49,137.53 330.24,134.29" fill="none" stroke="#000000" stroke-width="1.5"/>
<polygon points="367.07,124.66 370.32,127.91 367.07,131.16 363.82,127.91" fill="none" stroke="#000000" stroke-width="1.5"/>
<polygon points="484.60,113.85 487.85,117.10 484.60,120.35 481.35,117.10" fill="none" stroke="#000000" stroke-width="1.5"/>
<line x1="496.80" y1="50.80" x2="509.20" y2="50.80" stroke="#000000" stroke-width="1.4"/>
<circle cx="503.00" cy="50.80" r="3.25" fill="#000000"/>
<text transform="translate(516.20,53.80) scale(1.0,1.05)" font-size="9" stroke="#222222" stroke-width="0.25" fill="#222222">WT</text>
<line x1="496.80" y1="64.90" x2="509.20" y2="64.90" stroke="#f02a26" stroke-width="1.4"/>
<rect x="499.52" y="61.42" width="6.96" height="6.96" fill="#f02a26"/>
<text transform="translate(516.20,67.90) scale(0.78,1.05)" font-size="9" stroke="#222222" stroke-width="0.25" fill="#222222">Δ</text>
<text transform="translate(521.10,67.90) scale(1.0,1.05)" font-size="9" stroke="#222222" stroke-width="0.25" fill="#222222">3</text>
<line x1="496.80" y1="79.00" x2="509.20" y2="79.00" stroke="#1a6db3" stroke-width="1.4"/>
<polygon points="503.00,75.26 506.74,81.80 499.26,81.80" fill="#1a6db3"/>
<text transform="translate(516.20,82.00) scale(0.78,1.05)" font-size="9" stroke="#222222" stroke-width="0.25" fill="#222222">Δ</text>
<text transform="translate(521.10,82.00) scale(1.0,1.05)" font-size="9" stroke="#222222" stroke-width="0.25" fill="#222222">4</text>
<line x1="496.80" y1="93.10" x2="509.20" y2="93.10" stroke="#fdc010" stroke-width="1.4"/>
<polygon points="503.00,96.84 506.74,90.30 499.26,90.30" fill="#fdc010"/>
<text transform="translate(516.20,96.10) scale(0.78,1.05)" font-size="9" stroke="#222222" stroke-width="0.25" fill="#222222">Δ</text>
<text transform="translate(521.10,96.10) scale(1.0,1.05)" font-size="9" stroke="#222222" stroke-width="0.25" fill="#222222">6</text>
<path d="M496.80,107.20H500.80M505.20,107.20H509.20" stroke="#7e3f98" stroke-width="1.4"/>
<rect x="500.15" y="104.35" width="5.70" height="5.70" fill="none" stroke="#7e3f98" stroke-width="1.5"/>
<text transform="translate(516.20,110.20) scale(0.78,1.05)" font-size="9" stroke="#222222" stroke-width="0.25" fill="#222222">Δ</text>
<text transform="translate(521.10,110.20) scale(1.0,1.05)" font-size="9" stroke="#222222" stroke-width="0.25" fill="#222222">34</text>
<path d="M496.80,121.30H500.80M505.20,121.30H509.20" stroke="#f26522" stroke-width="1.4"/>
<polygon points="503.00,118.15 506.15,123.66 499.85,123.66" fill="none" stroke="#f26522" stroke-width="1.5"/>
<text transform="translate(516.20,124.30) scale(0.78,1.05)" font-size="9" stroke="#222222" stroke-width="0.25" fill="#222222">Δ</text>
<text transform="translate(521.10,124.30) scale(1.0,1.05)" font-size="9" stroke="#222222" stroke-width="0.25" fill="#222222">36</text>
<path d="M496.80,135.40H500.80M505.20,135.40H509.20" stroke="#00977a" stroke-width="1.4"/>
<polygon points="503.00,138.55 506.15,133.04 499.85,133.04" fill="none" stroke="#00977a" stroke-width="1.5"/>
<text transform="translate(516.20,138.40) scale(0.78,1.05)" font-size="9" stroke="#222222" stroke-width="0.25" fill="#222222">Δ</text>
<text transform="translate(521.10,138.40) scale(1.0,1.05)" font-size="9" stroke="#222222" stroke-width="0.25" fill="#222222">46</text>
<path d="M496.80,149.50H500.80M505.20,149.50H509.20" stroke="#000000" stroke-width="1.4"/>
<polygon points="503.00,145.86 506.64,149.50 503.00,153.14 499.36,149.50" fill="none" stroke="#000000" stroke-width="1.5"/>
<text transform="translate(516.20,152.50) scale(0.78,1.05)" font-size="9" stroke="#222222" stroke-width="0.25" fill="#222222">Δ</text>
<text transform="translate(521.10,152.50) scale(1.0,1.05)" font-size="9" stroke="#222222" stroke-width="0.25" fill="#222222">346</text>
<text transform="translate(375.90,31.50) scale(1.0,1.05)" font-size="11.5" font-weight="bold" stroke="#111" stroke-width="0.12" fill="#111">1% ethanol</text>
<text transform="translate(285.50,22.90) scale(1.0,1.1)" font-size="13" font-weight="bold" stroke="#111" stroke-width="0.12" fill="#111">B.</text>
<path d="M46.60,227.40 V339.50 H214.30" fill="none" stroke="#1a1a1a" stroke-width="1.3"/>
<line x1="43.60" y1="339.50" x2="46.60" y2="339.50" stroke="#1a1a1a" stroke-width="1.3"/>
<text x="42.40" y="342.70" font-size="9" stroke="#222222" stroke-width="0.22" text-anchor="end" fill="#222222">0.01</text>
<line x1="44.60" y1="322.63" x2="46.60" y2="322.63" stroke="#1a1a1a" stroke-width="1"/>
<line x1="44.60" y1="312.76" x2="46.60" y2="312.76" stroke="#1a1a1a" stroke-width="1"/>
<line x1="44.60" y1="305.75" x2="46.60" y2="305.75" stroke="#1a1a1a" stroke-width="1"/>
<line x1="44.60" y1="300.32" x2="46.60" y2="300.32" stroke="#1a1a1a" stroke-width="1"/>
<line x1="44.60" y1="295.88" x2="46.60" y2="295.88" stroke="#1a1a1a" stroke-width="1"/>
<line x1="44.60" y1="292.13" x2="46.60" y2="292.13" stroke="#1a1a1a" stroke-width="1"/>
<line x1="44.60" y1="288.88" x2="46.60" y2="288.88" stroke="#1a1a1a" stroke-width="1"/>
<line x1="44.60" y1="286.01" x2="46.60" y2="286.01" stroke="#1a1a1a" stroke-width="1"/>
<line x1="43.60" y1="283.45" x2="46.60" y2="283.45" stroke="#1a1a1a" stroke-width="1.3"/>
<text x="42.40" y="286.65" font-size="9" stroke="#222222" stroke-width="0.22" text-anchor="end" fill="#222222">0.1</text>
<line x1="44.60" y1="266.58" x2="46.60" y2="266.58" stroke="#1a1a1a" stroke-width="1"/>
<line x1="44.60" y1="256.71" x2="46.60" y2="256.71" stroke="#1a1a1a" stroke-width="1"/>
<line x1="44.60" y1="249.70" x2="46.60" y2="249.70" stroke="#1a1a1a" stroke-width="1"/>
<line x1="44.60" y1="244.27" x2="46.60" y2="244.27" stroke="#1a1a1a" stroke-width="1"/>
<line x1="44.60" y1="239.83" x2="46.60" y2="239.83" stroke="#1a1a1a" stroke-width="1"/>
<line x1="44.60" y1="236.08" x2="46.60" y2="236.08" stroke="#1a1a1a" stroke-width="1"/>
<line x1="44.60" y1="232.83" x2="46.60" y2="232.83" stroke="#1a1a1a" stroke-width="1"/>
<line x1="44.60" y1="229.96" x2="46.60" y2="229.96" stroke="#1a1a1a" stroke-width="1"/>
<line x1="43.60" y1="227.40" x2="46.60" y2="227.40" stroke="#1a1a1a" stroke-width="1.3"/>
<text x="42.40" y="230.60" font-size="9" stroke="#222222" stroke-width="0.22" text-anchor="end" fill="#222222">1</text>
<line x1="46.60" y1="339.50" x2="46.60" y2="342.50" stroke="#1a1a1a" stroke-width="1.3"/>
<text x="46.60" y="352.80" font-size="9" stroke="#222222" stroke-width="0.22" text-anchor="middle" fill="#222222">0</text>
<line x1="74.55" y1="339.50" x2="74.55" y2="342.50" stroke="#1a1a1a" stroke-width="1.3"/>
<text x="74.55" y="352.80" font-size="9" stroke="#222222" stroke-width="0.22" text-anchor="middle" fill="#222222">5</text>
<line x1="102.50" y1="339.50" x2="102.50" y2="342.50" stroke="#1a1a1a" stroke-width="1.3"/>
<text x="102.50" y="352.80" font-size="9" stroke="#222222" stroke-width="0.22" text-anchor="middle" fill="#222222">10</text>
<line x1="130.45" y1="339.50" x2="130.45" y2="342.50" stroke="#1a1a1a" stroke-width="1.3"/>
<text x="130.45" y="352.80" font-size="9" stroke="#222222" stroke-width="0.22" text-anchor="middle" fill="#222222">15</text>
<line x1="158.40" y1="339.50" x2="158.40" y2="342.50" stroke="#1a1a1a" stroke-width="1.3"/>
<text x="158.40" y="352.80" font-size="9" stroke="#222222" stroke-width="0.22" text-anchor="middle" fill="#222222">20</text>
<line x1="186.35" y1="339.50" x2="186.35" y2="342.50" stroke="#1a1a1a" stroke-width="1.3"/>
<text x="186.35" y="352.80" font-size="9" stroke="#222222" stroke-width="0.22" text-anchor="middle" fill="#222222">25</text>
<line x1="214.30" y1="339.50" x2="214.30" y2="342.50" stroke="#1a1a1a" stroke-width="1.3"/>
<text x="214.30" y="352.80" font-size="9" stroke="#222222" stroke-width="0.22" text-anchor="middle" fill="#222222">30</text>
<text transform="translate(130.45,364.70) scale(1.0,1.04)" font-size="10" font-weight="bold" stroke="#111" stroke-width="0.12" text-anchor="middle" fill="#111">time (hours)</text>
<text transform="translate(24.20,297.05) rotate(-90) scale(1.06,1)" font-size="9.5" font-weight="bold" fill="#111" stroke="#111" stroke-width="0.2">OD</text>
<text transform="translate(24.60,281.95) rotate(-90)" font-size="6.8" font-weight="bold" fill="#222">600</text>
<polyline points="46.60,283.45 63.37,292.13 96.91,253.16 214.30,244.76" fill="none" stroke="#000000" stroke-width="1.3" stroke-linejoin="round"/>
<polyline points="46.60,283.45 63.37,294.31 96.91,285.48 214.30,245.01" fill="none" stroke="#f02a26" stroke-width="1.3" stroke-linejoin="round"/>
<polyline points="46.60,283.45 63.37,323.00 96.91,296.92 214.30,286.01" fill="none" stroke="#1a6db3" stroke-width="1.3" stroke-linejoin="round"/>
<polyline points="46.60,283.45 63.37,300.57 96.91,257.20 214.30,240.79" fill="none" stroke="#fdc010" stroke-width="1.3" stroke-linejoin="round"/>
<mask id="mCd34" maskUnits="userSpaceOnUse" x="0" y="0" width="550" height="379"><rect width="550" height="379" fill="#fff"/><rect x="44.85" y="281.70" width="3.50" height="3.50" fill="#000"/><rect x="61.62" y="306.23" width="3.50" height="3.50" fill="#000"/><rect x="95.16" y="290.38" width="3.50" height="3.50" fill="#000"/><rect x="212.55" y="293.53" width="3.50" height="3.50" fill="#000"/></mask>
<polyline points="46.60,283.45 63.37,307.98 96.91,292.13 214.30,295.28" fill="none" stroke="#7e3f98" stroke-width="1.3" stroke-linejoin="round" mask="url(#mCd34)"/>
<mask id="mCd36" maskUnits="userSpaceOnUse" x="0" y="0" width="550" height="379"><rect width="550" height="379" fill="#fff"/><polygon points="46.60,281.99 48.06,284.55 45.14,284.55" fill="#000"/><polygon points="63.37,296.54 64.83,299.10 61.91,299.10" fill="#000"/><polygon points="96.91,273.28 98.37,275.84 95.45,275.84" fill="#000"/><polygon points="214.30,244.32 215.76,246.88 212.84,246.88" fill="#000"/></mask>
<polyline points="46.60,283.45 63.37,298.00 96.91,274.74 214.30,245.78" fill="none" stroke="#f26522" stroke-width="1.3" stroke-linejoin="round" mask="url(#mCd36)"/>
<mask id="mCd46" maskUnits="userSpaceOnUse" x="0" y="0" width="550" height="379"><rect width="550" height="379" fill="#fff"/><polygon points="46.60,284.91 48.06,282.35 45.14,282.35" fill="#000"/><polygon points="63.37,314.22 64.83,311.66 61.91,311.66" fill="#000"/><polygon points="96.91,290.34 98.37,287.78 95.45,287.78" fill="#000"/><polygon points="214.30,293.60 215.76,291.04 212.84,291.04" fill="#000"/></mask>
<polyline points="46.60,283.45 63.37,312.76 96.91,288.88 214.30,292.13" fill="none" stroke="#00977a" stroke-width="1.3" stroke-linejoin="round" mask="url(#mCd46)"/>
<mask id="mCd346" maskUnits="userSpaceOnUse" x="0" y="0" width="550" height="379"><rect width="550" height="379" fill="#fff"/><polygon points="46.60,281.55 48.50,283.45 46.60,285.35 44.70,283.45" fill="#000"/><polygon points="63.37,298.67 65.27,300.57 63.37,302.47 61.47,300.57" fill="#000"/><polygon points="96.91,312.80 98.81,314.70 96.91,316.60 95.01,314.70" fill="#000"/><polygon points="214.30,283.85 216.20,285.75 214.30,287.64 212.40,285.75" fill="#000"/></mask>
<polyline points="46.60,283.45 63.37,300.57 96.91,314.70 214.30,285.75" fill="none" stroke="#000000" stroke-width="1.3" stroke-linejoin="round" mask="url(#mCd346)"/>
<circle cx="46.60" cy="283.45" r="2.90" fill="#000000"/>
<circle cx="63.37" cy="292.13" r="2.90" fill="#000000"/>
<circle cx="96.91" cy="253.16" r="2.90" fill="#000000"/>
<circle cx="214.30" cy="244.76" r="2.90" fill="#000000"/>
<rect x="43.50" y="280.35" width="6.21" height="6.21" fill="#f02a26"/>
<rect x="60.27" y="291.21" width="6.21" height="6.21" fill="#f02a26"/>
<rect x="93.81" y="282.38" width="6.21" height="6.21" fill="#f02a26"/>
<rect x="211.20" y="241.91" width="6.21" height="6.21" fill="#f02a26"/>
<polygon points="46.60,280.12 49.94,285.95 43.27,285.95" fill="#1a6db3"/>
<polygon points="63.37,319.66 66.70,325.50 60.04,325.50" fill="#1a6db3"/>
<polygon points="96.91,293.59 100.25,299.42 93.58,299.42" fill="#1a6db3"/>
<polygon points="214.30,282.68 217.64,288.52 210.97,288.52" fill="#1a6db3"/>
<polygon points="46.60,286.78 49.94,280.95 43.27,280.95" fill="#fdc010"/>
<polygon points="63.37,303.90 66.70,298.07 60.04,298.07" fill="#fdc010"/>
<polygon points="96.91,260.53 100.25,254.70 93.58,254.70" fill="#fdc010"/>
<polygon points="214.30,244.12 217.64,238.28 210.97,238.28" fill="#fdc010"/>
<rect x="44.10" y="280.95" width="5.00" height="5.00" fill="none" stroke="#7e3f98" stroke-width="1.5"/>
<rect x="60.87" y="305.48" width="5.00" height="5.00" fill="none" stroke="#7e3f98" stroke-width="1.5"/>
<rect x="94.41" y="289.63" width="5.00" height="5.00" fill="none" stroke="#7e3f98" stroke-width="1.5"/>
<rect x="211.80" y="292.78" width="5.00" height="5.00" fill="none" stroke="#7e3f98" stroke-width="1.5"/>
<polygon points="46.60,280.64 49.41,285.56 43.79,285.56" fill="none" stroke="#f26522" stroke-width="1.5"/>
<polygon points="63.37,295.19 66.18,300.11 60.56,300.11" fill="none" stroke="#f26522" stroke-width="1.5"/>
<polygon points="96.91,271.93 99.72,276.85 94.10,276.85" fill="none" stroke="#f26522" stroke-width="1.5"/>
<polygon points="214.30,242.97 217.11,247.89 211.49,247.89" fill="none" stroke="#f26522" stroke-width="1.5"/>
<polygon points="46.60,286.26 49.41,281.34 43.79,281.34" fill="none" stroke="#00977a" stroke-width="1.5"/>
<polygon points="63.37,315.57 66.18,310.65 60.56,310.65" fill="none" stroke="#00977a" stroke-width="1.5"/>
<polygon points="96.91,291.69 99.72,286.77 94.10,286.77" fill="none" stroke="#00977a" stroke-width="1.5"/>
<polygon points="214.30,294.95 217.11,290.02 211.49,290.02" fill="none" stroke="#00977a" stroke-width="1.5"/>
<polygon points="46.60,280.20 49.85,283.45 46.60,286.70 43.35,283.45" fill="none" stroke="#000000" stroke-width="1.5"/>
<polygon points="63.37,297.32 66.62,300.57 63.37,303.82 60.12,300.57" fill="none" stroke="#000000" stroke-width="1.5"/>
<polygon points="96.91,311.45 100.16,314.70 96.91,317.95 93.66,314.70" fill="none" stroke="#000000" stroke-width="1.5"/>
<polygon points="214.30,282.50 217.55,285.75 214.30,288.99 211.05,285.75" fill="none" stroke="#000000" stroke-width="1.5"/>
<line x1="226.50" y1="234.30" x2="238.90" y2="234.30" stroke="#000000" stroke-width="1.4"/>
<circle cx="232.70" cy="234.30" r="3.25" fill="#000000"/>
<text transform="translate(245.90,237.30) scale(1.0,1.05)" font-size="9" stroke="#222222" stroke-width="0.25" fill="#222222">WT</text>
<line x1="226.50" y1="248.40" x2="238.90" y2="248.40" stroke="#f02a26" stroke-width="1.4"/>
<rect x="229.22" y="244.92" width="6.96" height="6.96" fill="#f02a26"/>
<text transform="translate(245.90,251.40) scale(0.78,1.05)" font-size="9" stroke="#222222" stroke-width="0.25" fill="#222222">Δ</text>
<text transform="translate(250.80,251.40) scale(1.0,1.05)" font-size="9" stroke="#222222" stroke-width="0.25" fill="#222222">3</text>
<line x1="226.50" y1="262.50" x2="238.90" y2="262.50" stroke="#1a6db3" stroke-width="1.4"/>
<polygon points="232.70,258.76 236.44,265.30 228.96,265.30" fill="#1a6db3"/>
<text transform="translate(245.90,265.50) scale(0.78,1.05)" font-size="9" stroke="#222222" stroke-width="0.25" fill="#222222">Δ</text>
<text transform="translate(250.80,265.50) scale(1.0,1.05)" font-size="9" stroke="#222222" stroke-width="0.25" fill="#222222">4</text>
<line x1="226.50" y1="276.60" x2="238.90" y2="276.60" stroke="#fdc010" stroke-width="1.4"/>
<polygon points="232.70,280.34 236.44,273.80 228.96,273.80" fill="#fdc010"/>
<text transform="translate(245.90,279.60) scale(0.78,1.05)" font-size="9" stroke="#222222" stroke-width="0.25" fill="#222222">Δ</text>
<text transform="translate(250.80,279.60) scale(1.0,1.05)" font-size="9" stroke="#222222" stroke-width="0.25" fill="#222222">6</text>
<path d="M226.50,290.70H230.50M234.90,290.70H238.90" stroke="#7e3f98" stroke-width="1.4"/>
<rect x="229.85" y="287.85" width="5.70" height="5.70" fill="none" stroke="#7e3f98" stroke-width="1.5"/>
<text transform="translate(245.90,293.70) scale(0.78,1.05)" font-size="9" stroke="#222222" stroke-width="0.25" fill="#222222">Δ</text>
<text transform="translate(250.80,293.70) scale(1.0,1.05)" font-size="9" stroke="#222222" stroke-width="0.25" fill="#222222">34</text>
<path d="M226.50,304.80H230.50M234.90,304.80H238.90" stroke="#f26522" stroke-width="1.4"/>
<polygon points="232.70,301.65 235.85,307.16 229.55,307.16" fill="none" stroke="#f26522" stroke-width="1.5"/>
<text transform="translate(245.90,307.80) scale(0.78,1.05)" font-size="9" stroke="#222222" stroke-width="0.25" fill="#222222">Δ</text>
<text transform="translate(250.80,307.80) scale(1.0,1.05)" font-size="9" stroke="#222222" stroke-width="0.25" fill="#222222">36</text>
<path d="M226.50,318.90H230.50M234.90,318.90H238.90" stroke="#00977a" stroke-width="1.4"/>
<polygon points="232.70,322.05 235.85,316.54 229.55,316.54" fill="none" stroke="#00977a" stroke-width="1.5"/>
<text transform="translate(245.90,321.90) scale(0.78,1.05)" font-size="9" stroke="#222222" stroke-width="0.25" fill="#222222">Δ</text>
<text transform="translate(250.80,321.90) scale(1.0,1.05)" font-size="9" stroke="#222222" stroke-width="0.25" fill="#222222">46</text>
<path d="M226.50,333.00H230.50M234.90,333.00H238.90" stroke="#000000" stroke-width="1.4"/>
<polygon points="232.70,329.36 236.34,333.00 232.70,336.64 229.06,333.00" fill="none" stroke="#000000" stroke-width="1.5"/>
<text transform="translate(245.90,336.00) scale(0.78,1.05)" font-size="9" stroke="#222222" stroke-width="0.25" fill="#222222">Δ</text>
<text transform="translate(250.80,336.00) scale(1.0,1.05)" font-size="9" stroke="#222222" stroke-width="0.25" fill="#222222">346</text>
<text transform="translate(106.20,215.50) scale(1.0,1.05)" font-size="11.5" font-weight="bold" stroke="#111" stroke-width="0.12" fill="#111">1%1-propanol</text>
<text transform="translate(15.20,204.80) scale(1.0,1.1)" font-size="13" font-weight="bold" stroke="#111" stroke-width="0.12" fill="#111">C.</text>
<path d="M316.70,227.40 V339.40 H484.70" fill="none" stroke="#1a1a1a" stroke-width="1.3"/>
<line x1="313.70" y1="339.40" x2="316.70" y2="339.40" stroke="#1a1a1a" stroke-width="1.3"/>
<text x="312.50" y="342.60" font-size="9" stroke="#222222" stroke-width="0.22" text-anchor="end" fill="#222222">0.01</text>
<line x1="314.70" y1="322.54" x2="316.70" y2="322.54" stroke="#1a1a1a" stroke-width="1"/>
<line x1="314.70" y1="312.68" x2="316.70" y2="312.68" stroke="#1a1a1a" stroke-width="1"/>
<line x1="314.70" y1="305.68" x2="316.70" y2="305.68" stroke="#1a1a1a" stroke-width="1"/>
<line x1="314.70" y1="300.26" x2="316.70" y2="300.26" stroke="#1a1a1a" stroke-width="1"/>
<line x1="314.70" y1="295.82" x2="316.70" y2="295.82" stroke="#1a1a1a" stroke-width="1"/>
<line x1="314.70" y1="292.07" x2="316.70" y2="292.07" stroke="#1a1a1a" stroke-width="1"/>
<line x1="314.70" y1="288.83" x2="316.70" y2="288.83" stroke="#1a1a1a" stroke-width="1"/>
<line x1="314.70" y1="285.96" x2="316.70" y2="285.96" stroke="#1a1a1a" stroke-width="1"/>
<line x1="313.70" y1="283.40" x2="316.70" y2="283.40" stroke="#1a1a1a" stroke-width="1.3"/>
<text x="312.50" y="286.60" font-size="9" stroke="#222222" stroke-width="0.22" text-anchor="end" fill="#222222">0.1</text>
<line x1="314.70" y1="266.54" x2="316.70" y2="266.54" stroke="#1a1a1a" stroke-width="1"/>
<line x1="314.70" y1="256.68" x2="316.70" y2="256.68" stroke="#1a1a1a" stroke-width="1"/>
<line x1="314.70" y1="249.68" x2="316.70" y2="249.68" stroke="#1a1a1a" stroke-width="1"/>
<line x1="314.70" y1="244.26" x2="316.70" y2="244.26" stroke="#1a1a1a" stroke-width="1"/>
<line x1="314.70" y1="239.82" x2="316.70" y2="239.82" stroke="#1a1a1a" stroke-width="1"/>
<line x1="314.70" y1="236.07" x2="316.70" y2="236.07" stroke="#1a1a1a" stroke-width="1"/>
<line x1="314.70" y1="232.83" x2="316.70" y2="232.83" stroke="#1a1a1a" stroke-width="1"/>
<line x1="314.70" y1="229.96" x2="316.70" y2="229.96" stroke="#1a1a1a" stroke-width="1"/>
<line x1="313.70" y1="227.40" x2="316.70" y2="227.40" stroke="#1a1a1a" stroke-width="1.3"/>
<text x="312.50" y="230.60" font-size="9" stroke="#222222" stroke-width="0.22" text-anchor="end" fill="#222222">1</text>
<line x1="316.70" y1="339.40" x2="316.70" y2="342.40" stroke="#1a1a1a" stroke-width="1.3"/>
<text x="316.70" y="352.70" font-size="9" stroke="#222222" stroke-width="0.22" text-anchor="middle" fill="#222222">0</text>
<line x1="344.70" y1="339.40" x2="344.70" y2="342.40" stroke="#1a1a1a" stroke-width="1.3"/>
<text x="344.70" y="352.70" font-size="9" stroke="#222222" stroke-width="0.22" text-anchor="middle" fill="#222222">5</text>
<line x1="372.70" y1="339.40" x2="372.70" y2="342.40" stroke="#1a1a1a" stroke-width="1.3"/>
<text x="372.70" y="352.70" font-size="9" stroke="#222222" stroke-width="0.22" text-anchor="middle" fill="#222222">10</text>
<line x1="400.70" y1="339.40" x2="400.70" y2="342.40" stroke="#1a1a1a" stroke-width="1.3"/>
<text x="400.70" y="352.70" font-size="9" stroke="#222222" stroke-width="0.22" text-anchor="middle" fill="#222222">15</text>
<line x1="428.70" y1="339.40" x2="428.70" y2="342.40" stroke="#1a1a1a" stroke-width="1.3"/>
<text x="428.70" y="352.70" font-size="9" stroke="#222222" stroke-width="0.22" text-anchor="middle" fill="#222222">20</text>
<line x1="456.70" y1="339.40" x2="456.70" y2="342.40" stroke="#1a1a1a" stroke-width="1.3"/>
<text x="456.70" y="352.70" font-size="9" stroke="#222222" stroke-width="0.22" text-anchor="middle" fill="#222222">25</text>
<line x1="484.70" y1="339.40" x2="484.70" y2="342.40" stroke="#1a1a1a" stroke-width="1.3"/>
<text x="484.70" y="352.70" font-size="9" stroke="#222222" stroke-width="0.22" text-anchor="middle" fill="#222222">30</text>
<text transform="translate(400.70,364.60) scale(1.0,1.04)" font-size="10" font-weight="bold" stroke="#111" stroke-width="0.12" text-anchor="middle" fill="#111">time (hours)</text>
<text transform="translate(294.30,297.00) rotate(-90) scale(1.06,1)" font-size="9.5" font-weight="bold" fill="#111" stroke="#111" stroke-width="0.2">OD</text>
<text transform="translate(294.70,281.90) rotate(-90)" font-size="6.8" font-weight="bold" fill="#222">600</text>
<polyline points="316.70,283.40 333.50,273.87 367.10,277.40 484.70,255.49" fill="none" stroke="#000000" stroke-width="1.3" stroke-linejoin="round"/>
<polyline points="316.70,283.40 333.50,289.44 367.10,281.98 484.70,290.40" fill="none" stroke="#f02a26" stroke-width="1.3" stroke-linejoin="round"/>
<polyline points="316.70,283.40 333.50,328.12 367.10,297.50 484.70,291.39" fill="none" stroke="#1a6db3" stroke-width="1.3" stroke-linejoin="round"/>
<polyline points="316.70,283.40 333.50,289.44 367.10,271.97 484.70,266.06" fill="none" stroke="#fdc010" stroke-width="1.3" stroke-linejoin="round"/>
<mask id="mDd34" maskUnits="userSpaceOnUse" x="0" y="0" width="550" height="379"><rect width="550" height="379" fill="#fff"/><rect x="314.95" y="281.65" width="3.50" height="3.50" fill="#000"/><rect x="331.75" y="301.07" width="3.50" height="3.50" fill="#000"/><rect x="365.35" y="294.07" width="3.50" height="3.50" fill="#000"/><rect x="482.95" y="307.60" width="3.50" height="3.50" fill="#000"/></mask>
<polyline points="316.70,283.40 333.50,302.82 367.10,295.82 484.70,309.35" fill="none" stroke="#7e3f98" stroke-width="1.3" stroke-linejoin="round" mask="url(#mDd34)"/>
<mask id="mDd36" maskUnits="userSpaceOnUse" x="0" y="0" width="550" height="379"><rect width="550" height="379" fill="#fff"/><polygon points="316.70,281.94 318.16,284.50 315.24,284.50" fill="#000"/><polygon points="333.50,272.40 334.96,274.96 332.04,274.96" fill="#000"/><polygon points="367.10,283.44 368.56,286.00 365.64,286.00" fill="#000"/><polygon points="484.70,269.32 486.16,271.88 483.24,271.88" fill="#000"/></mask>
<polyline points="316.70,283.40 333.50,273.87 367.10,284.90 484.70,270.78" fill="none" stroke="#f26522" stroke-width="1.3" stroke-linejoin="round" mask="url(#mDd36)"/>
<mask id="mDd46" maskUnits="userSpaceOnUse" x="0" y="0" width="550" height="379"><rect width="550" height="379" fill="#fff"/><polygon points="316.70,284.86 318.16,282.30 315.24,282.30" fill="#000"/><polygon points="333.50,296.33 334.96,293.77 332.04,293.77" fill="#000"/><polygon points="367.10,293.19 368.56,290.63 365.64,290.63" fill="#000"/><polygon points="484.70,308.14 486.16,305.58 483.24,305.58" fill="#000"/></mask>
<polyline points="316.70,283.40 333.50,294.87 367.10,291.73 484.70,306.68" fill="none" stroke="#00977a" stroke-width="1.3" stroke-linejoin="round" mask="url(#mDd46)"/>
<mask id="mDd346" maskUnits="userSpaceOnUse" x="0" y="0" width="550" height="379"><rect width="550" height="379" fill="#fff"/><polygon points="316.70,281.50 318.60,283.40 316.70,285.30 314.80,283.40" fill="#000"/><polygon points="333.50,300.92 335.40,302.82 333.50,304.72 331.60,302.82" fill="#000"/><polygon points="367.10,296.17 369.00,298.07 367.10,299.97 365.20,298.07" fill="#000"/><polygon points="484.70,293.93 486.60,295.82 484.70,297.72 482.80,295.82" fill="#000"/></mask>
<polyline points="316.70,283.40 333.50,302.82 367.10,298.07 484.70,295.82" fill="none" stroke="#000000" stroke-width="1.3" stroke-linejoin="round" mask="url(#mDd346)"/>
<circle cx="316.70" cy="283.40" r="2.90" fill="#000000"/>
<circle cx="333.50" cy="273.87" r="2.90" fill="#000000"/>
<circle cx="367.10" cy="277.40" r="2.90" fill="#000000"/>
<circle cx="484.70" cy="255.49" r="2.90" fill="#000000"/>
<rect x="313.60" y="280.30" width="6.21" height="6.21" fill="#f02a26"/>
<rect x="330.40" y="286.34" width="6.21" height="6.21" fill="#f02a26"/>
<rect x="364.00" y="278.88" width="6.21" height="6.21" fill="#f02a26"/>
<rect x="481.60" y="287.29" width="6.21" height="6.21" fill="#f02a26"/>
<polygon points="316.70,280.06 320.03,285.90 313.37,285.90" fill="#1a6db3"/>
<polygon points="333.50,324.79 336.83,330.62 330.17,330.62" fill="#1a6db3"/>
<polygon points="367.10,294.17 370.43,300.00 363.76,300.00" fill="#1a6db3"/>
<polygon points="484.70,288.05 488.03,293.89 481.37,293.89" fill="#1a6db3"/>
<polygon points="316.70,286.73 320.03,280.90 313.37,280.90" fill="#fdc010"/>
<polygon points="333.50,292.78 336.83,286.94 330.17,286.94" fill="#fdc010"/>
<polygon points="367.10,275.30 370.43,269.47 363.76,269.47" fill="#fdc010"/>
<polygon points="484.70,269.40 488.03,263.56 481.37,263.56" fill="#fdc010"/>
<rect x="314.20" y="280.90" width="5.00" height="5.00" fill="none" stroke="#7e3f98" stroke-width="1.5"/>
<rect x="331.00" y="300.32" width="5.00" height="5.00" fill="none" stroke="#7e3f98" stroke-width="1.5"/>
<rect x="364.60" y="293.32" width="5.00" height="5.00" fill="none" stroke="#7e3f98" stroke-width="1.5"/>
<rect x="482.20" y="306.85" width="5.00" height="5.00" fill="none" stroke="#7e3f98" stroke-width="1.5"/>
<polygon points="316.70,280.59 319.51,285.51 313.89,285.51" fill="none" stroke="#f26522" stroke-width="1.5"/>
<polygon points="333.50,271.05 336.31,275.98 330.69,275.98" fill="none" stroke="#f26522" stroke-width="1.5"/>
<polygon points="367.10,282.09 369.91,287.01 364.29,287.01" fill="none" stroke="#f26522" stroke-width="1.5"/>
<polygon points="484.70,267.97 487.51,272.89 481.89,272.89" fill="none" stroke="#f26522" stroke-width="1.5"/>
<polygon points="316.70,286.21 319.51,281.29 313.89,281.29" fill="none" stroke="#00977a" stroke-width="1.5"/>
<polygon points="333.50,297.68 336.31,292.76 330.69,292.76" fill="none" stroke="#00977a" stroke-width="1.5"/>
<polygon points="367.10,294.54 369.91,289.62 364.29,289.62" fill="none" stroke="#00977a" stroke-width="1.5"/>
<polygon points="484.70,309.49 487.51,304.57 481.89,304.57" fill="none" stroke="#00977a" stroke-width="1.5"/>
<polygon points="316.70,280.15 319.95,283.40 316.70,286.65 313.45,283.40" fill="none" stroke="#000000" stroke-width="1.5"/>
<polygon points="333.50,299.57 336.75,302.82 333.50,306.07 330.25,302.82" fill="none" stroke="#000000" stroke-width="1.5"/>
<polygon points="367.10,294.82 370.35,298.07 367.10,301.32 363.85,298.07" fill="none" stroke="#000000" stroke-width="1.5"/>
<polygon points="484.70,292.58 487.95,295.82 484.70,299.07 481.45,295.82" fill="none" stroke="#000000" stroke-width="1.5"/>
<line x1="496.80" y1="234.30" x2="509.20" y2="234.30" stroke="#000000" stroke-width="1.4"/>
<circle cx="503.00" cy="234.30" r="3.25" fill="#000000"/>
<text transform="translate(516.20,237.30) scale(1.0,1.05)" font-size="9" stroke="#222222" stroke-width="0.25" fill="#222222">WT</text>
<line x1="496.80" y1="248.40" x2="509.20" y2="248.40" stroke="#f02a26" stroke-width="1.4"/>
<rect x="499.52" y="244.92" width="6.96" height="6.96" fill="#f02a26"/>
<text transform="translate(516.20,251.40) scale(0.78,1.05)" font-size="9" stroke="#222222" stroke-width="0.25" fill="#222222">Δ</text>
<text transform="translate(521.10,251.40) scale(1.0,1.05)" font-size="9" stroke="#222222" stroke-width="0.25" fill="#222222">3</text>
<line x1="496.80" y1="262.50" x2="509.20" y2="262.50" stroke="#1a6db3" stroke-width="1.4"/>
<polygon points="503.00,258.76 506.74,265.30 499.26,265.30" fill="#1a6db3"/>
<text transform="translate(516.20,265.50) scale(0.78,1.05)" font-size="9" stroke="#222222" stroke-width="0.25" fill="#222222">Δ</text>
<text transform="translate(521.10,265.50) scale(1.0,1.05)" font-size="9" stroke="#222222" stroke-width="0.25" fill="#222222">4</text>
<line x1="496.80" y1="276.60" x2="509.20" y2="276.60" stroke="#fdc010" stroke-width="1.4"/>
<polygon points="503.00,280.34 506.74,273.80 499.26,273.80" fill="#fdc010"/>
<text transform="translate(516.20,279.60) scale(0.78,1.05)" font-size="9" stroke="#222222" stroke-width="0.25" fill="#222222">Δ</text>
<text transform="translate(521.10,279.60) scale(1.0,1.05)" font-size="9" stroke="#222222" stroke-width="0.25" fill="#222222">6</text>
<path d="M496.80,290.70H500.80M505.20,290.70H509.20" stroke="#7e3f98" stroke-width="1.4"/>
<rect x="500.15" y="287.85" width="5.70" height="5.70" fill="none" stroke="#7e3f98" stroke-width="1.5"/>
<text transform="translate(516.20,293.70) scale(0.78,1.05)" font-size="9" stroke="#222222" stroke-width="0.25" fill="#222222">Δ</text>
<text transform="translate(521.10,293.70) scale(1.0,1.05)" font-size="9" stroke="#222222" stroke-width="0.25" fill="#222222">34</text>
<path d="M496.80,304.80H500.80M505.20,304.80H509.20" stroke="#f26522" stroke-width="1.4"/>
<polygon points="503.00,301.65 506.15,307.16 499.85,307.16" fill="none" stroke="#f26522" stroke-width="1.5"/>
<text transform="translate(516.20,307.80) scale(0.78,1.05)" font-size="9" stroke="#222222" stroke-width="0.25" fill="#222222">Δ</text>
<text transform="translate(521.10,307.80) scale(1.0,1.05)" font-size="9" stroke="#222222" stroke-width="0.25" fill="#222222">36</text>
<path d="M496.80,318.90H500.80M505.20,318.90H509.20" stroke="#00977a" stroke-width="1.4"/>
<polygon points="503.00,322.05 506.15,316.54 499.85,316.54" fill="none" stroke="#00977a" stroke-width="1.5"/>
<text transform="translate(516.20,321.90) scale(0.78,1.05)" font-size="9" stroke="#222222" stroke-width="0.25" fill="#222222">Δ</text>
<text transform="translate(521.10,321.90) scale(1.0,1.05)" font-size="9" stroke="#222222" stroke-width="0.25" fill="#222222">46</text>
<path d="M496.80,333.00H500.80M505.20,333.00H509.20" stroke="#000000" stroke-width="1.4"/>
<polygon points="503.00,329.36 506.64,333.00 503.00,336.64 499.36,333.00" fill="none" stroke="#000000" stroke-width="1.5"/>
<text transform="translate(516.20,336.00) scale(0.78,1.05)" font-size="9" stroke="#222222" stroke-width="0.25" fill="#222222">Δ</text>
<text transform="translate(521.10,336.00) scale(1.0,1.05)" font-size="9" stroke="#222222" stroke-width="0.25" fill="#222222">346</text>
<text transform="translate(380.60,215.50) scale(1.0,1.05)" font-size="11.5" font-weight="bold" stroke="#111" stroke-width="0.12" fill="#111">1%1-butanol</text>
<text transform="translate(285.50,204.80) scale(1.0,1.1)" font-size="13" font-weight="bold" stroke="#111" stroke-width="0.12" fill="#111">D.</text>
</svg></body></html>
